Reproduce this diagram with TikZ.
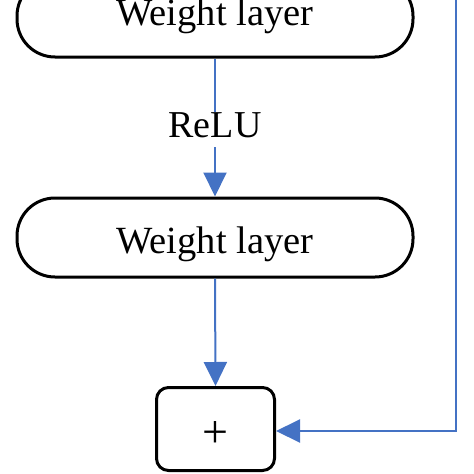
\documentclass[tikz,border=0pt]{standalone}
\usepackage{fontspec}
\setmainfont{Liberation Serif}
\usetikzlibrary{arrows.meta}
\definecolor{linkblue}{HTML}{4472C4}
\tikzset{
  wbox/.style={draw=black, line width=3pt, rounded corners=38pt, minimum width=396pt, minimum height=79pt, inner sep=0pt, font=\fontsize{38.5}{44}\selectfont, text depth=0pt},
  pbox/.style={draw=black, line width=3pt, rounded corners=12pt, minimum width=118pt, minimum height=83pt, inner sep=0pt, font=\fontsize{46}{50}\selectfont},
  lbl/.style={inner sep=0pt, font=\fontsize{38}{44}\selectfont, text depth=10pt},
  link/.style={draw=linkblue, line width=2pt},
  arr/.style={link, -{Triangle[length=24pt, width=23pt]}}
}
\begin{document}
\begin{tikzpicture}[x=1pt, y=-1pt]
\useasboundingbox (0,0) rectangle (474,474);
\node[wbox, text height=15pt] (w1) at (215,17.5) {Weight layer};
\node[lbl, anchor=base] (relu) at (215,137) {ReLU};
\node[wbox, text height=31pt] (w2) at (215,237.5) {Weight layer};
\node[pbox, text height=36pt, text depth=0pt] (plus) at (215.5,429) {+};
\coordinate (skip) at (456,-5);
\draw[link] (w1.south) -- (relu.north);
\draw[arr] (relu.south) -- (w2.north);
\draw[arr] (w2.south) -- (plus.north);
\draw[arr] (skip) |- ([yshift=-2pt]plus.east);
\end{tikzpicture}
\end{document}
